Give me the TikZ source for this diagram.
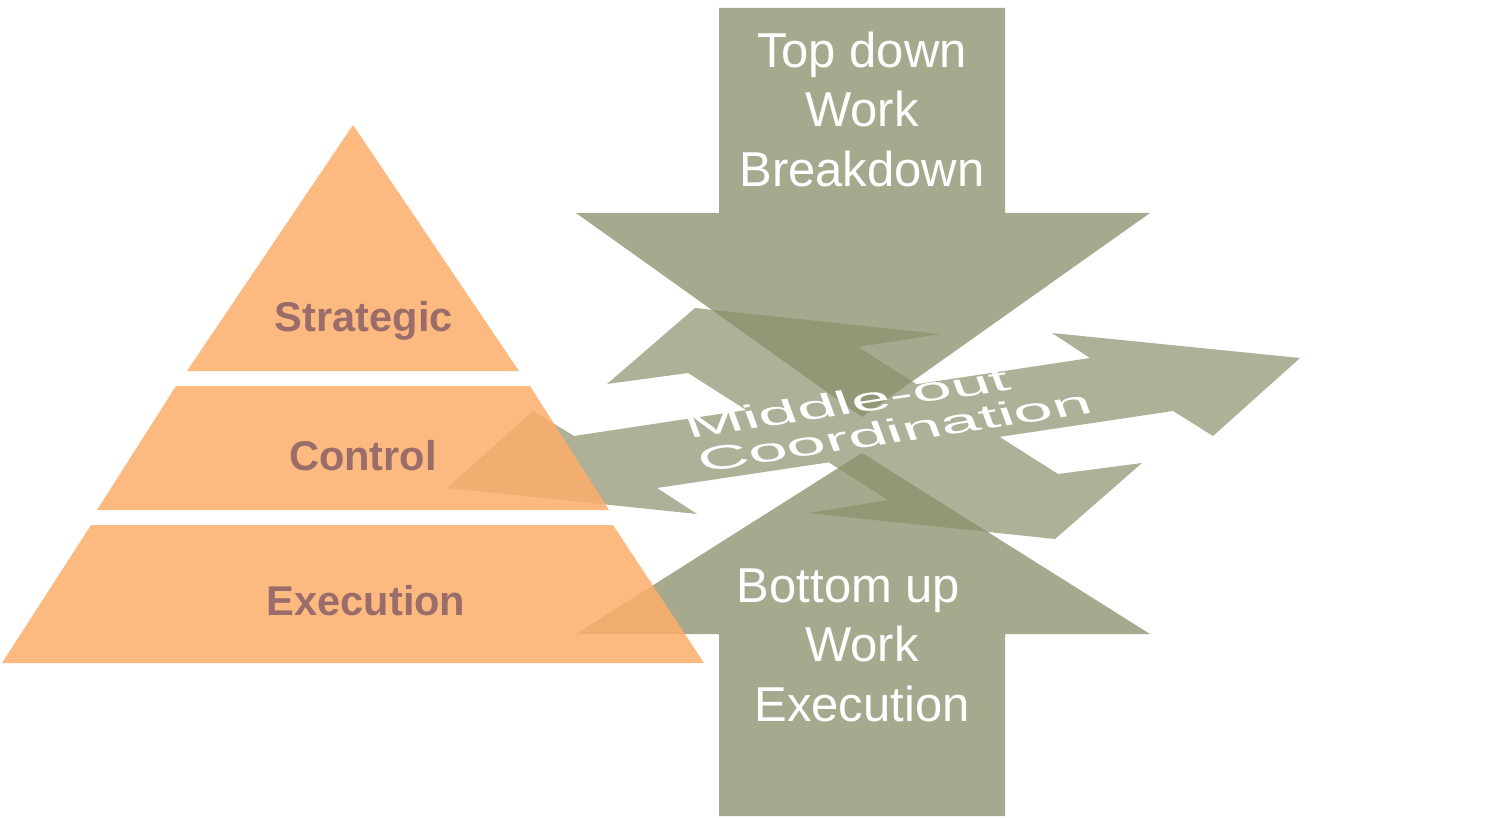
\documentclass[tikz,border=0pt]{standalone}
\usepackage{fontspec}
\setmainfont{Liberation Sans}
\definecolor{pyr}{HTML}{FDAE6A}
\definecolor{vArrow}{HTML}{A7A98F}
\definecolor{qArrow}{HTML}{8B8F6B}
\definecolor{lbl}{HTML}{9A6D6B}
\begin{document}
\begin{tikzpicture}[x=1pt,y=-1pt,
  varrow/.style={fill=vArrow},
  quad/.style={fill=qArrow, fill opacity=0.69},
  layer/.style={fill=pyr, fill opacity=0.85},
  layerlabel/.style={text=lbl, font=\fontsize{41.6}{50}\selectfont\bfseries, anchor=base, inner sep=0pt},
  arrowtext/.style={text=white, font=\fontsize{49}{59.5}\selectfont, align=center, inner sep=0pt},
  quadtext/.style={text=white, font=\fontsize{70}{73.5}\selectfont, align=left, inner sep=0pt, transform shape}]
\useasboundingbox[fill=white] (0,0) rectangle (1485,818);

% vertical arrows
\fill[varrow] (719,8) -- (1005,8) -- (1005,213) -- (1150,213) -- (862,417)
  -- (576,213) -- (719,213) -- cycle;
\fill[varrow] (719,816) -- (1005,816) -- (1005,634) -- (1150,634) -- (862,453)
  -- (576,634) -- (719,634) -- cycle;

% four-way arrow in perspective
\fill[quad]
  (447,488) -- (533,411) -- (574,436) -- (1090,358) -- (1052,333) -- (1300,358)
  -- (1213,436) -- (1173,411) -- (657,488) -- (697,514) -- cycle
  (695,308) -- (940,334) -- (858,347) -- (1058,474) -- (1142,463) -- (1055,539)
  -- (808,513) -- (888,500) -- (688,373) -- (607,384) -- cycle;

\begin{scope}[shift={(888,414)}, cm={0.9887,0.1494,-0.17,0.46,(0,0)}]
  \node[quadtext] (mid) at (0,0) {Middle-out\\Coordination};
\end{scope}

\node[arrowtext] (top) at (862,109) {Top down\\Work\\Breakdown};
\node[arrowtext] (bottom) at (862,645) {Bottom up\hspace*{27pt}\\Work\\Execution};

% pyramid
\fill[layer] (353,125) -- (519,371) -- (187,371) -- cycle;
\fill[layer] (176,386) -- (530,386) -- (609,510) -- (97,510) -- cycle;
\fill[layer] (91,525) -- (613,525) -- (704,663) -- (2,663) -- cycle;

\node[layerlabel] (strategic) at (364,331) {Strategic};
\node[layerlabel] (control) at (363,470) {Control};
\node[layerlabel] (execution) at (366,615) {Execution};
\end{tikzpicture}
\end{document}
